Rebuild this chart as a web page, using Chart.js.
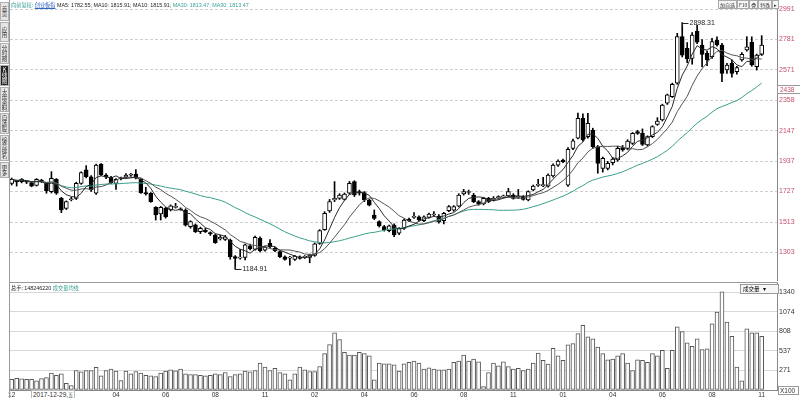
<!DOCTYPE html>
<html>
<head>
<meta charset="utf-8">
<title>创业板指 周K线</title>
<script src="https://cdn.jsdelivr.net/npm/chart.js@4.4.1/dist/chart.umd.min.js"></script>
<style>
  body { margin: 0; width: 800px; height: 398px; overflow: hidden; background: #fff; position: relative;
         font-family: "Liberation Sans", "Noto Sans CJK SC", sans-serif; }
  canvas { position: absolute; left: 0; }
  #priceChart { top: 0; }
  #volChart { top: 283px; }
  .tab { position: absolute; left: 0; width: 9px; box-sizing: border-box; background: #e6e6e6;
         border: 1px solid #b0b0b0; writing-mode: vertical-rl; text-orientation: upright;
         font: 5.5px "Noto Sans CJK SC"; color: #333; display: flex; align-items: center; justify-content: center; }
  .tab.on { background: #222; color: #fff; }
  .line { position: absolute; background: #999; }
  .hdr { position: absolute; white-space: nowrap; font-size: 5.4px; line-height: 8px; color: #222; }
  .cjk { font-family: "Noto Sans CJK SC"; font-size: 5.2px; }
  .teal { color: #3a9f95; }
  .blue { color: #2f64c0; text-decoration: underline; }
  .btns { position: absolute; top: 0; left: 718px; display: flex; }
  .btns span { border: 1px solid #aaa; font: 5px "Noto Sans CJK SC"; line-height: 7px; padding: 0 1px; color: #333; background: #f6f6f6; }
  .box { position: absolute; border: 1px solid #999; background: #fff; font-size: 6.5px; line-height: 7px; white-space: nowrap; }
</style>
</head>
<body>
<canvas id="priceChart" width="800" height="283"></canvas>
<canvas id="volChart" width="800" height="115"></canvas>

<div class="line" style="left:9px;top:0;width:1px;height:398px"></div>
<div class="line" style="left:9px;top:282px;width:769px;height:1px"></div>

<div id="sidebar"></div>

<div class="hdr" style="left:11px;top:1px">
  <span class="cjk teal">向前复权:</span> <span class="cjk blue">创业板指</span>
  MA5: 1782.55; MA10: 1815.91; MA10: 1815.91; <span class="teal">MA30: 1813.47; MA30: 1813.47</span>
</div>
<div class="btns"><span>加自选</span><span>F10</span><span>叠</span><span>特殊</span><span>▸</span></div>
<div class="box" style="left:777px;top:85px;width:22px;height:7px;color:#c0506a;padding-left:2px">2438</div>

<div class="hdr" style="left:11px;top:284px"><span class="cjk">总手:</span> 148246220 <span class="cjk teal">成交量均线</span></div>
<div class="box" style="left:740px;top:284px;width:35px;height:8px;font:5.5px 'Noto Sans CJK SC';line-height:8px;padding-left:2px;background:#f6f6f6">成交量 &nbsp;&nbsp;▾</div>
<div class="box" style="left:778px;top:386px;width:18px;height:7px;color:#333;padding-left:1px">X100</div>
<div class="box" style="left:31px;top:390px;height:7px;color:#333;padding:0 1px;border-color:#bbb"><span>2017-12-29,</span><span class="cjk">五</span></div>

<script>
const monthLabels = ["12", "04", "06", "08", "11", "02", "04", "06", "08", "11", "01", "04", "06", "08", "11"];
const monthTickIdx = [0, 21, 31, 41, 51, 61, 71, 81, 91, 101, 111, 121, 131, 141, 151];
const priceTicks = [1303, 1513, 1727, 1937, 2147, 2358, 2571, 2781, 2991];
const volumeTicks = [0, 271, 537, 808, 1074, 1340];

const opens = [
    1782, 1799, 1793, 1795, 1787, 1768, 1805, 1782, 1724, 1810,
    1678, 1608, 1668, 1678, 1782, 1875, 1828, 1713, 1916, 1840,
    1824, 1782, 1812, 1824, 1838, 1847, 1810, 1717, 1713, 1615,
    1569, 1608, 1597, 1615, 1603, 1597, 1481, 1493, 1446, 1458,
    1440, 1423, 1395, 1393, 1388, 1273, 1262, 1268, 1347, 1323,
    1400, 1318, 1365, 1330, 1307, 1272, 1262, 1254, 1272, 1268,
    1268, 1282, 1365, 1460, 1590, 1666, 1678, 1671, 1713, 1794,
    1724, 1717, 1666, 1562, 1516, 1481, 1453, 1492, 1435, 1469,
    1534, 1545, 1550, 1522, 1546, 1562, 1555, 1522, 1592, 1595,
    1624, 1708, 1718, 1701, 1655, 1639, 1678, 1666, 1680,
    1688, 1694, 1701, 1684, 1690, 1666, 1736, 1768, 1766, 1763,
    1833, 1909, 1944, 1770, 2025, 2095, 2234, 2106, 2152, 2037,
    1886, 1886, 1925, 1944, 2030, 2025, 2060, 2141, 2129, 2048,
    2106, 2192, 2222, 2338, 2384, 2477, 2801, 2720, 2650, 2840,
    2743, 2685, 2662, 2778, 2743, 2569, 2616, 2558, 2639, 2708, 2762, 2592, 2678,
];
const highs = [
    1819, 1805, 1815, 1800, 1792, 1815, 1810, 1790, 1863, 1815,
    1685, 1660, 1685, 1790, 1862, 1905, 1835, 1915, 1920, 1850,
    1830, 1815, 1825, 1850, 1852, 1878, 1815, 1754, 1718, 1620,
    1622, 1615, 1632, 1643, 1612, 1605, 1522, 1500, 1478, 1470,
    1445, 1430, 1420, 1420, 1395, 1280, 1323, 1360, 1360, 1415,
    1410, 1342, 1392, 1337, 1312, 1278, 1275, 1282, 1278, 1280,
    1290, 1368, 1460, 1585, 1670, 1794, 1710, 1715, 1795, 1800,
    1735, 1725, 1672, 1597, 1522, 1490, 1492, 1500, 1475, 1535,
    1540, 1578, 1556, 1556, 1575, 1585, 1565, 1580, 1628, 1627,
    1710, 1740, 1735, 1712, 1662, 1685, 1685, 1690, 1695,
    1700, 1747, 1710, 1740, 1697, 1730, 1770, 1810, 1823, 1848,
    1918, 1945, 1950, 2030, 2090, 2270, 2265, 2268, 2165, 2045,
    1965, 1935, 1962, 2040, 2045, 2085, 2135, 2150, 2160, 2112,
    2182, 2238, 2332, 2402, 2478, 2824, 2898.31, 2760, 2830, 2882,
    2780, 2700, 2790, 2800, 2755, 2615, 2640, 2595, 2690, 2801, 2800, 2680, 2808,
];
const lows = [
    1770, 1763, 1785, 1780, 1758, 1763, 1788, 1713, 1715, 1705,
    1578, 1600, 1660, 1670, 1775, 1820, 1725, 1705, 1835, 1815,
    1780, 1740, 1805, 1818, 1830, 1812, 1712, 1700, 1650, 1527,
    1527, 1540, 1590, 1610, 1595, 1485, 1470, 1440, 1433, 1440,
    1420, 1365, 1388, 1385, 1255, 1184.91, 1255, 1250, 1320, 1318,
    1305, 1310, 1335, 1308, 1265, 1248, 1214, 1246, 1255, 1260,
    1230, 1275, 1358, 1455, 1580, 1655, 1670, 1665, 1705, 1690,
    1700, 1655, 1625, 1530, 1478, 1450, 1445, 1411, 1425, 1462,
    1515, 1538, 1520, 1515, 1540, 1555, 1505, 1500, 1585, 1588,
    1618, 1700, 1705, 1648, 1630, 1632, 1648, 1660, 1672,
    1680, 1688, 1672, 1678, 1665, 1660, 1730, 1760, 1758, 1755,
    1825, 1900, 1925, 1760, 2015, 2090, 2075, 2095, 2025, 1852,
    1860, 1875, 1910, 1935, 2005, 2015, 2052, 2122, 2045, 2040,
    2100, 2185, 2215, 2330, 2378, 2470, 2660, 2620, 2610, 2752,
    2590, 2600, 2650, 2735, 2488, 2545, 2520, 2540, 2630, 2700, 2595, 2569, 2670,
];
const closes = [
    1810, 1792, 1810, 1790, 1763, 1810, 1794, 1731, 1817, 1713,
    1597, 1655, 1675, 1782, 1856, 1828, 1736, 1909, 1840, 1824,
    1787, 1810, 1818, 1840, 1843, 1817, 1717, 1708, 1655, 1562,
    1615, 1550, 1625, 1620, 1598, 1492, 1516, 1446, 1469, 1446,
    1430, 1370, 1408, 1411, 1273, 1261, 1268, 1354, 1328, 1407,
    1314, 1337, 1342, 1314, 1272, 1254, 1267, 1277, 1261, 1271,
    1284, 1361, 1453, 1574, 1655, 1678, 1701, 1708, 1782, 1701,
    1713, 1666, 1631, 1539, 1486, 1458, 1486, 1423, 1469, 1527,
    1522, 1548, 1527, 1550, 1569, 1566, 1516, 1573, 1620, 1620,
    1701, 1724, 1722, 1655, 1638, 1678, 1655, 1678, 1690,
    1692, 1724, 1678, 1688, 1671, 1724, 1763, 1771, 1770, 1840,
    1909, 1937, 1932, 2018, 2078, 2234, 2083, 2199, 2037, 1921,
    1956, 1921, 1950, 2025, 2014, 2076, 2129, 2129, 2053, 2106,
    2176, 2215, 2326, 2396, 2470, 2801, 2673, 2646, 2812, 2762,
    2678, 2639, 2766, 2743, 2546, 2604, 2546, 2586, 2678, 2731, 2604, 2673, 2743,
];
const volumes = [
    148, 162, 152, 148, 148, 125, 157, 171, 231, 203,
    222, 92, 60, 268, 250, 268, 268, 310, 194, 268,
    286, 259, 129, 259, 222, 254, 231, 203, 194, 185,
    231, 259, 277, 263, 286, 222, 213, 213, 203, 194,
    203, 222, 213, 240, 185, 213, 222, 259, 250, 268,
    370, 314, 268, 296, 240, 222, 139, 222, 314, 277,
    254, 254, 323, 499, 624, 785, 693, 517, 480, 480,
    517, 499, 471, 139, 370, 360, 360, 346, 259, 360,
    379, 397, 370, 286, 305, 286, 277, 277, 286, 379,
    397, 480, 397, 425, 388, 46, 240, 370, 333, 388,
    323, 286, 296, 268, 286, 370, 508, 407, 356, 573,
    471, 407, 619, 638, 776, 887, 730, 702, 591, 499,
    416, 425, 471, 499, 370, 268, 416, 407, 379, 499,
    471, 545, 296, 545, 869, 804, 647, 601, 702, 554,
    564, 910, 1072, 1349, 933, 739, 314, 125, 841, 785,
    785, 739,
];

const sidebarTabs = [
    ["首页", 2, 19], ["应用", 22, 20], ["分时图", 43, 21], ["K线图", 65, 21],
    ["大盘资料", 87, 25], ["自选股", 113, 21], ["综合排名", 135, 26], ["更多", 162, 16],
];

// x range chosen so the first week sits at x≈12 and the last at x≈762
const X_MIN = -0.34;
const X_MAX = 154.08;

function movingAverage(values, n) {
    return values.map((v, i) => {
        const win = values.slice(Math.max(0, i - n + 1), i + 1);
        return win.reduce((a, b) => a + b, 0) / win.length;
    });
}

// keep tick labels from pushing the plot area inwards
function noLabelPadding(s) {
    s.paddingTop = 0;
    s.paddingBottom = 0;
    s.paddingLeft = 0;
    s.paddingRight = 0;
}

function initSidebar() {
    const bar = document.getElementById("sidebar");
    sidebarTabs.forEach(([text, top, h], i) => {
        const d = document.createElement("div");
        d.className = "tab" + (i === 3 ? " on" : "");
        d.style.top = top + "px";
        d.style.height = h + "px";
        d.textContent = text;
        bar.appendChild(d);
    });
}

const extremeMarks = {
    id: "extremeMarks",
    afterDatasetsDraw(chart) {
        const { ctx, scales: { x, y } } = chart;
        const hi = highs.indexOf(Math.max(...highs));
        const lo = lows.indexOf(Math.min(...lows));
        ctx.save();
        ctx.strokeStyle = "#222";
        ctx.fillStyle = "#222";
        ctx.lineWidth = 1;
        ctx.font = '7px "Liberation Sans"';
        ctx.textBaseline = "middle";

        let px = Math.round(x.getPixelForValue(hi)) + 0.5;
        let py = Math.round(y.getPixelForValue(highs[hi])) + 0.5;
        ctx.beginPath();
        ctx.moveTo(px, py + 3);
        ctx.lineTo(px, py);
        ctx.lineTo(px + 6, py);
        ctx.stroke();
        ctx.fillText(highs[hi].toFixed(2), px + 7, py);

        px = Math.round(x.getPixelForValue(lo)) + 0.5;
        py = Math.round(y.getPixelForValue(lows[lo])) + 0.5;
        ctx.beginPath();
        ctx.moveTo(px, py - 3);
        ctx.lineTo(px, py);
        ctx.lineTo(px + 6, py);
        ctx.stroke();
        ctx.fillText(lows[lo].toFixed(2), px + 7, py);
        ctx.restore();
    },
};

function initPriceChart() {
    const idx = closes.map((_, i) => i);
    const line = (values, color) => ({
        type: "line",
        data: idx.map((i) => ({ x: i, y: values[i] })),
        borderColor: color,
        borderWidth: 1,
        pointRadius: 0,
        order: 1,
    });

    new Chart(document.getElementById("priceChart"), {
        type: "bar",
        data: {
            datasets: [
                line(movingAverage(closes, 5), "#2a2a2a"),
                line(movingAverage(closes, 10), "#555"),
                line(movingAverage(closes, 30), "#3a9f8c"),
                {
                    data: idx.map((i) => ({ x: i, y: [opens[i], closes[i]] })),
                    backgroundColor: idx.map((i) => (closes[i] >= opens[i] ? "#fff" : "#000")),
                    borderColor: "#000",
                    borderWidth: 1,
                    borderSkipped: false,
                    barThickness: 4,
                    minBarLength: 1,
                    grouped: false,
                    order: 2,
                },
                {
                    data: idx.map((i) => ({ x: i, y: [lows[i], highs[i]] })),
                    backgroundColor: "#000",
                    borderWidth: 0,
                    barThickness: 1,
                    grouped: false,
                    order: 3,
                },
            ],
        },
        options: {
            responsive: false,
            animation: false,
            layout: { padding: { left: 10, top: 2, bottom: 3, right: 0 } },
            plugins: { legend: { display: false }, tooltip: { enabled: false } },
            scales: {
                x: { type: "linear", min: X_MIN, max: X_MAX, offset: false, display: false },
                y: {
                    position: "right",
                    min: 1110.4,
                    max: 3041.7,
                    afterBuildTicks: (s) => { s.ticks = priceTicks.map((v) => ({ value: v })); },
                    afterFit: (s) => { s.width = 23; noLabelPadding(s); },
                    grid: { color: "#cfcfcf", drawTicks: false },
                    border: { display: true, color: "#888", dash: [3, 2] },
                    ticks: {
                        callback: (v) => String(v),
                        color: "#c0506a",
                        font: { size: 7, family: "Liberation Sans" },
                        padding: 2,
                        autoSkip: false,
                    },
                },
            },
        },
        plugins: [extremeMarks],
    });
}

function initVolumeChart() {
    new Chart(document.getElementById("volChart"), {
        type: "bar",
        data: {
            datasets: [{
                data: volumes.map((v, i) => ({ x: i, y: v })),
                backgroundColor: "#fff",
                borderColor: "#555",
                borderWidth: 1,
                borderSkipped: false,
                barThickness: 4,
            }],
        },
        options: {
            responsive: false,
            animation: false,
            layout: { padding: { left: 10, top: 0, bottom: 0, right: 0 } },
            plugins: { legend: { display: false }, tooltip: { enabled: false } },
            scales: {
                x: {
                    type: "linear",
                    min: X_MIN,
                    max: X_MAX,
                    offset: false,
                    afterBuildTicks: (s) => { s.ticks = monthTickIdx.map((v) => ({ value: v })); },
                    afterFit: (s) => { s.height = 8; noLabelPadding(s); },
                    grid: { display: false, drawTicks: false },
                    border: { display: true, color: "#888" },
                    ticks: {
                        callback: (v, i) => monthLabels[i],
                        color: "#333",
                        font: { size: 6.5, family: "Liberation Sans" },
                        padding: 1,
                        maxRotation: 0,
                        autoSkip: false,
                    },
                },
                y: {
                    position: "right",
                    min: 0,
                    max: 1470,
                    afterBuildTicks: (s) => { s.ticks = volumeTicks.map((v) => ({ value: v })); },
                    afterFit: (s) => { s.width = 23; noLabelPadding(s); },
                    grid: { color: (c) => (c.tick && c.tick.value === 0 ? "rgba(0,0,0,0)" : "#d8d8d8"), drawTicks: false },
                    border: { display: true, color: "#888" },
                    ticks: {
                        callback: (v) => (v === 0 ? "" : String(v)),
                        color: "#333",
                        font: { size: 7, family: "Liberation Sans" },
                        padding: 2,
                        autoSkip: false,
                    },
                },
            },
        },
    });
}

document.addEventListener("DOMContentLoaded", () => {
    initSidebar();
    initPriceChart();
    initVolumeChart();
});
</script>
</body>
</html>
